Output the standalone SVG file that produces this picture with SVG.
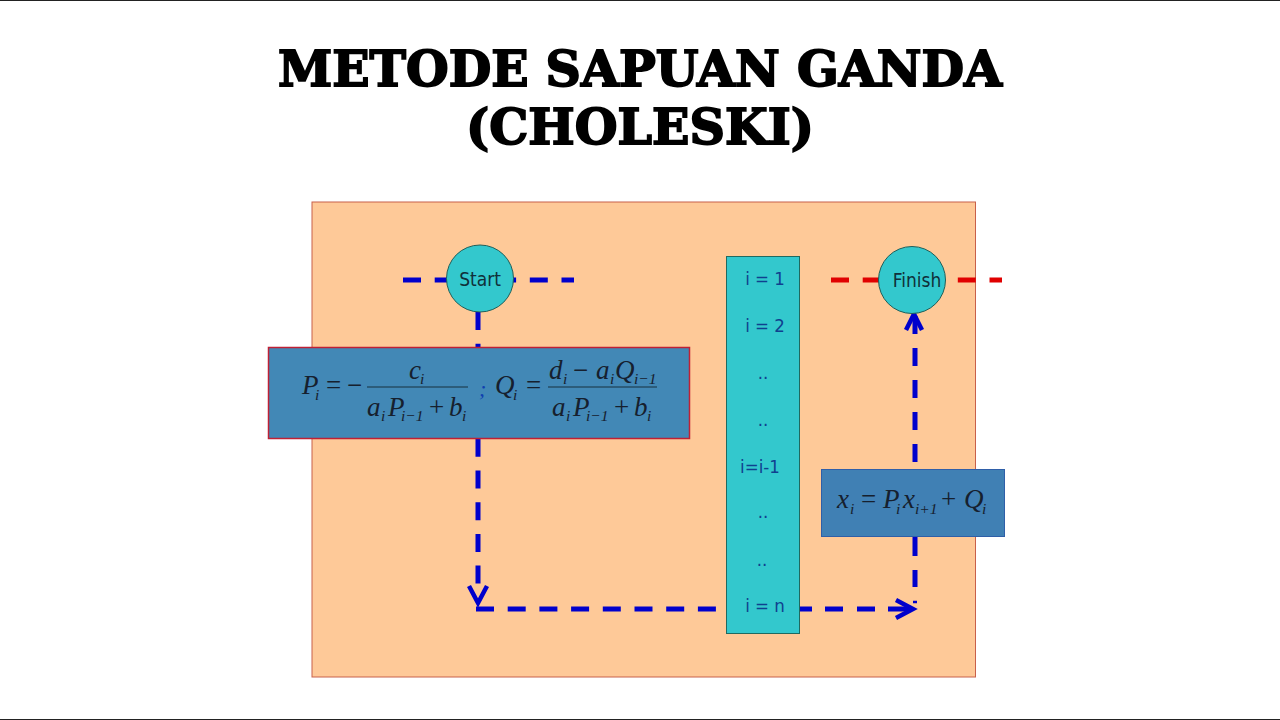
<svg xmlns="http://www.w3.org/2000/svg" width="1280" height="720" viewBox="0 0 1280 720">
<style>
.title{font-family:"DejaVu Serif",serif;font-weight:bold;font-size:48px;fill:#000;stroke:#000;stroke-width:1.8;text-anchor:middle}
.lbl{font-family:"DejaVu Sans",sans-serif;font-stretch:condensed;font-size:18.500px;fill:#10408f;text-anchor:middle}
.nm{font-family:"DejaVu Sans",sans-serif;font-stretch:condensed;font-size:19px;fill:#10303a;text-anchor:middle}
.m{font-family:"Liberation Serif",serif;font-size:27px;font-style:italic;fill:#16202e}
.s{font-size:15.500px}
.u{font-style:normal}
.c{fill:none;stroke:#0000cc;stroke-width:5}
.a{fill:none;stroke:#0000cc;stroke-width:4.500}
.d{stroke-dasharray:18 13.700}
.circle{fill:#33c8cd;stroke:#1f5f5a;stroke-width:1}
.frac{stroke:#16303e;stroke-width:1}
</style>
<rect width="1280" height="720" fill="#fff"/>
<rect x="0" y="0" width="1280" height="1" fill="#222"/>
<rect x="0" y="719" width="1280" height="1" fill="#222"/>
<text class="title" x="640" y="86" textLength="724" lengthAdjust="spacingAndGlyphs">METODE SAPUAN GANDA</text>
<text class="title" x="640" y="144" textLength="348" lengthAdjust="spacingAndGlyphs">(CHOLESKI)</text>
<rect id="panel" x="312" y="202" width="663.500" height="475" fill="#fec998" stroke="#c8604a" stroke-width="1"/>
<g id="connectors">
<path class="c d" d="M403 280H574"/>
<path class="c d" style="stroke:#e00000" d="M831 280H1002"/>
<path class="c d" d="M478 312V586"/>
<path class="a" d="M469 586L478 603L487 586"/>
<path class="c d" d="M476 609H726"/>
<path class="c" d="M800 609H812M825 609H843M857 609H875M888 609H910"/>
<path class="a" d="M896 600L913 609L896 618"/>
<path class="c" d="M915 537V556M915 570V587"/>
<path d="M913 602H917" stroke="#0000cc" stroke-width="2.500" fill="none"/>
<path class="c" d="M915 462V444M915 430V412M915 398V380M915 366V348M915 334V316"/>
<path class="a" d="M906 330L914 314L922 330"/>
</g>
<g id="start"><circle class="circle" cx="480" cy="278.500" r="33.500"/><text class="nm" x="480" y="285.500">Start</text></g>
<g id="finish"><circle class="circle" cx="912" cy="280" r="33.500"/><text class="nm" x="917" y="286.500">Finish</text></g>
<g id="formula1">
<rect x="268.500" y="347.500" width="421" height="91" fill="#4288b6" stroke="#bf2035" stroke-width="1.500"/>
<text class="m" y="394"><tspan x="302">P</tspan><tspan class="s" x="315" dy="6">i</tspan><tspan class="u" x="326" dy="-6">=</tspan><tspan class="u" x="347">−</tspan></text>
<line class="frac" x1="367" y1="387" x2="468" y2="387"/>
<text class="m" y="379"><tspan x="409">c</tspan><tspan class="s" x="420" dy="5">i</tspan></text>
<text class="m" y="416"><tspan x="367">a</tspan><tspan class="s" x="381" dy="5">i</tspan><tspan x="388" dy="-5">P</tspan><tspan class="s" x="401" dy="5">i−1</tspan><tspan class="u" x="429" dy="-5">+</tspan><tspan x="449">b</tspan><tspan class="s" x="462" dy="5">i</tspan></text>
<text x="479" y="396" style="font-family:'Liberation Serif',serif;font-size:22px;font-style:italic;fill:#0f40b0">;</text>
<text class="m" y="394"><tspan x="495">Q</tspan><tspan class="s" x="513" dy="6">i</tspan><tspan class="u" x="526" dy="-6">=</tspan></text>
<line class="frac" x1="548" y1="387" x2="657" y2="387"/>
<text class="m" y="379"><tspan x="549">d</tspan><tspan class="s" x="563" dy="5">i</tspan><tspan class="u" x="573" dy="-5">−</tspan><tspan x="596">a</tspan><tspan class="s" x="610" dy="5">i</tspan><tspan x="615" dy="-5">Q</tspan><tspan class="s" x="634" dy="5">i−1</tspan></text>
<text class="m" y="416"><tspan x="552">a</tspan><tspan class="s" x="566" dy="5">i</tspan><tspan x="573" dy="-5">P</tspan><tspan class="s" x="586" dy="5">i−1</tspan><tspan class="u" x="614" dy="-5">+</tspan><tspan x="634">b</tspan><tspan class="s" x="647" dy="5">i</tspan></text>
</g>
<g id="loop">
<rect x="726.500" y="256.500" width="73" height="377" fill="#33c8cd" stroke="#1f6a60" stroke-width="1"/>
<text class="lbl" x="765" y="285">i = 1</text>
<text class="lbl" x="765" y="332">i = 2</text>
<text class="lbl" x="763" y="379">..</text>
<text class="lbl" x="763" y="426">..</text>
<text class="lbl" x="760" y="473">i=i-1</text>
<text class="lbl" x="763" y="518">..</text>
<text class="lbl" x="762" y="566">..</text>
<text class="lbl" x="765" y="612">i = n</text>
</g>
<g id="formula2">
<rect x="821.500" y="469.500" width="183" height="67" fill="#4080b4" stroke="#2f5fa8" stroke-width="1"/>
<text class="m" y="508"><tspan x="837">x</tspan><tspan class="s" x="850" dy="6">i</tspan><tspan class="u" x="861" dy="-6">=</tspan><tspan x="883">P</tspan><tspan class="s" x="896" dy="6">i</tspan><tspan x="903" dy="-6">x</tspan><tspan class="s" x="915" dy="6">i+1</tspan><tspan class="u" x="941" dy="-6">+</tspan><tspan x="964">Q</tspan><tspan class="s" x="982" dy="6">i</tspan></text>
</g>
</svg>
